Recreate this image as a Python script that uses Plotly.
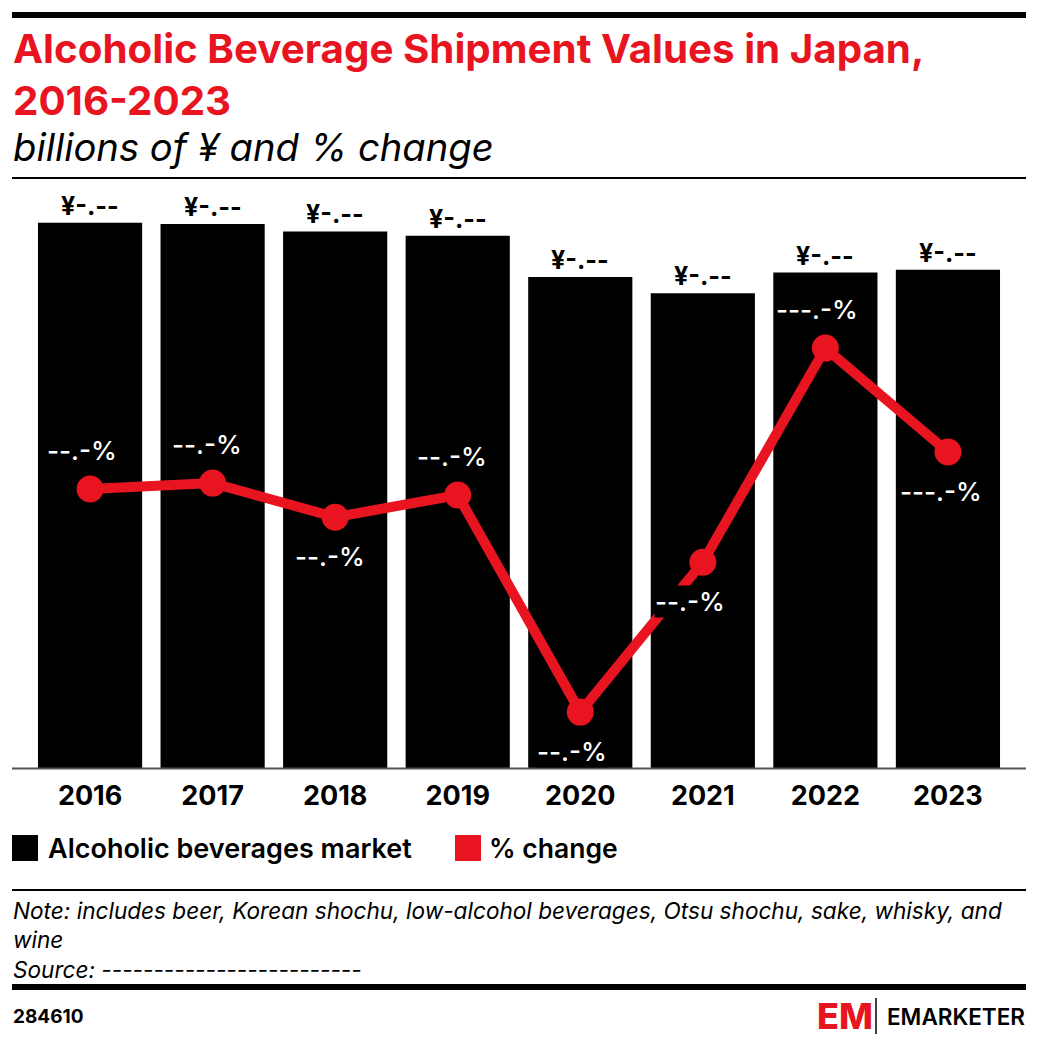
import plotly.graph_objects as go

# ---- data ----
years = ["2016", "2017", "2018", "2019", "2020", "2021", "2022", "2023"]
market_values = [3.71, 3.70, 3.65, 3.62, 3.34, 3.23, 3.37, 3.39]
pct_change = [-0.86, -0.68, -1.71, -1.04, -7.6, -3.07, 3.4, 0.26]
value_labels = ["¥-.--"] * 8
pct_labels = ["--.-%", "--.-%", "--.-%", "--.-%", "--.-%", "--.-%", "---.-%", "---.-%"]
legend_names = ["Alcoholic beverages market", "% change"]

# ---- styling ----
RED = "#E8141F"
BLACK = "#000000"
W, H = 1038, 1045
ML, MR, MT, MB = 12, 12, 180, 277
PLOT_H = H - MT - MB
FONT = "Inter"

label_side = [1, 1, -1, 1, -1, -1, 1, -1]
label_xshift = [-8, -6, -5, -6, -8, -13, -8, -7]

def py(pix):
    """pixel y (from top) -> paper y"""
    return (H - MB - pix) / PLOT_H

def px(pix):
    return (pix - ML) / (W - ML - MR)

fig = go.Figure()
fig.add_trace(go.Bar(
    x=years, y=market_values, name=legend_names[0],
    marker=dict(color=BLACK, line=dict(width=0)),
    showlegend=False, hoverinfo="x+y",
))
fig.add_trace(go.Scatter(
    x=years, y=pct_change, name=legend_names[1], yaxis="y2",
    mode="lines+markers",
    line=dict(color=RED, width=10),
    marker=dict(color=RED, size=27),
    showlegend=False,
))

annotations = []
for i, (v, t) in enumerate(zip(market_values, value_labels)):
    annotations.append(dict(
        x=i, y=v, xref="x", yref="y", text=t, showarrow=False,
        yanchor="bottom", yshift=0,
        font=dict(family=FONT, size=25, color=BLACK, weight=700),
    ))
for i, (v, t, s, xs) in enumerate(zip(pct_change, pct_labels, label_side, label_xshift)):
    annotations.append(dict(
        x=i, y=v, xref="x", yref="y2", text=t, showarrow=False,
        yanchor="middle", yshift=39 * s, xshift=xs,
        bgcolor=BLACK, borderpad=0,
        font=dict(family=FONT, size=26, color="#FFFFFF", weight=500),
    ))

# title / subtitle
annotations.append(dict(
    xref="paper", yref="paper", x=px(11), y=py(22), xanchor="left", yanchor="top",
    text="Alcoholic Beverage Shipment Values in Japan,<br>2016-2023", align="left",
    showarrow=False, font=dict(family=FONT, size=40.3, color=RED, weight=700),
))
annotations.append(dict(
    xref="paper", yref="paper", x=px(11), y=py(147), xanchor="left", yanchor="middle",
    text="<i>billions of ¥ and % change</i>", showarrow=False, align="left",
    font=dict(family=FONT, size=38.2, color=BLACK),
))

# legend
annotations.append(dict(
    xref="paper", yref="paper", x=px(46), y=py(848), xanchor="left", yanchor="middle",
    text=legend_names[0], showarrow=False,
    font=dict(family=FONT, size=27, color=BLACK, weight=600),
))
annotations.append(dict(
    xref="paper", yref="paper", x=px(487), y=py(848), xanchor="left", yanchor="middle",
    text=legend_names[1], showarrow=False,
    font=dict(family=FONT, size=26.5, color=BLACK, weight=600),
))

# note / source
annotations.append(dict(
    xref="paper", yref="paper", x=px(11), y=py(895), xanchor="left", yanchor="top",
    text="<i>Note: includes beer, Korean shochu, low-alcohol beverages, Otsu shochu, sake, whisky, and<br>wine<br>Source: -------------------------</i>",
    align="left", showarrow=False,
    font=dict(family=FONT, size=22.6, color=BLACK),
))
# footer
annotations.append(dict(
    xref="paper", yref="paper", x=px(11), y=py(1016), xanchor="left", yanchor="middle",
    text="284610", showarrow=False,
    font=dict(family=FONT, size=19, color=BLACK, weight=700),
))
annotations.append(dict(
    xref="paper", yref="paper", x=px(815), y=py(1016), xanchor="left", yanchor="middle",
    text="EM", showarrow=False,
    font=dict(family=FONT, size=36, color=RED, weight=800),
))
annotations.append(dict(
    xref="paper", yref="paper", x=px(1027), y=py(1016), xanchor="right", yanchor="middle",
    text="EMARKETER", showarrow=False,
    font=dict(family=FONT, size=22.5, color=BLACK, weight=600),
))

shapes = [
    dict(type="line", xref="paper", yref="paper", x0=0, x1=1, y0=py(15), y1=py(15),
         line=dict(color=BLACK, width=6)),
    dict(type="line", xref="paper", yref="paper", x0=0, x1=1, y0=py(178), y1=py(178),
         line=dict(color=BLACK, width=2)),
    dict(type="line", xref="paper", yref="paper", x0=0, x1=1, y0=py(768.5), y1=py(768.5),
         line=dict(color="#555555", width=2)),
    dict(type="rect", xref="paper", yref="paper", x0=px(12), x1=px(38), y0=py(835), y1=py(861),
         fillcolor=BLACK, line=dict(width=0)),
    dict(type="rect", xref="paper", yref="paper", x0=px(455), x1=px(481), y0=py(835), y1=py(861),
         fillcolor=RED, line=dict(width=0)),
    dict(type="line", xref="paper", yref="paper", x0=0, x1=1, y0=py(890), y1=py(890),
         line=dict(color=BLACK, width=2)),
    dict(type="line", xref="paper", yref="paper", x0=0, x1=1, y0=py(987), y1=py(987),
         line=dict(color=BLACK, width=6)),
    dict(type="line", xref="paper", yref="paper", x0=px(876), x1=px(876), y0=py(998), y1=py(1034),
         line=dict(color=BLACK, width=1.5)),
]

fig.update_layout(
    width=W, height=H,
    margin=dict(l=ML, r=MR, t=MT, b=MB, pad=0),
    paper_bgcolor="white", plot_bgcolor="white",
    bargap=0.15,
    font=dict(family=FONT, color=BLACK),
    xaxis=dict(
        type="category",
        range=[-0.637, 7.637], showgrid=False, zeroline=False, showline=False,
        ticks="", tickfont=dict(family=FONT, size=27, color=BLACK, weight=700),
        ticklabelstandoff=9, fixedrange=True,
    ),
    yaxis=dict(range=[0, 4.0], visible=False, fixedrange=True),
    yaxis2=dict(range=[-9.29, 8.48], overlaying="y", visible=False, fixedrange=True),
    annotations=annotations,
    shapes=shapes,
    showlegend=False,
)

fig.write_html("out.html")
